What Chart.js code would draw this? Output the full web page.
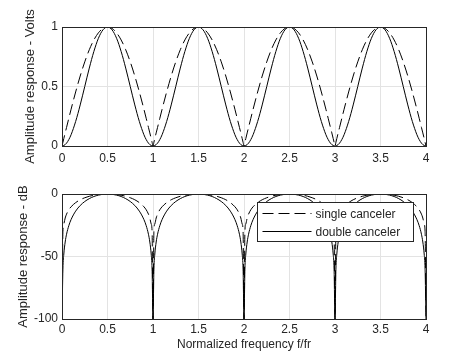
<!DOCTYPE html>
<html>
<head>
<meta charset="utf-8">
<script src="https://cdn.jsdelivr.net/npm/chart.js@4/dist/chart.umd.min.js"></script>
<style>
  body { margin: 0; background: #fff; }
  #wrap { position: relative; width: 472px; height: 354px; }
  .box { position: absolute; left: 0; width: 472px; height: 177px; }
</style>
</head>
<body>
<div id="wrap">
  <div class="box" style="top:0"><canvas id="volts"></canvas></div>
  <div class="box" style="top:177px"><canvas id="db"></canvas></div>
</div>
<script>
// normalized frequency f/fr (denser near the nulls)
const freq = [
  0, 0.01, 0.02, 0.035, 0.05, 0.075, 0.1, 0.15, 0.2, 0.25, 0.3, 0.35, 0.4, 0.45, 0.5, 0.55, 0.6, 0.65, 0.7, 0.75, 0.8, 0.85, 0.9, 0.925, 0.95, 0.965, 0.98, 0.99,
  1, 1.01, 1.02, 1.035, 1.05, 1.075, 1.1, 1.15, 1.2, 1.25, 1.3, 1.35, 1.4, 1.45, 1.5, 1.55, 1.6, 1.65, 1.7, 1.75, 1.8, 1.85, 1.9, 1.925, 1.95, 1.965, 1.98, 1.99,
  2, 2.01, 2.02, 2.035, 2.05, 2.075, 2.1, 2.15, 2.2, 2.25, 2.3, 2.35, 2.4, 2.45, 2.5, 2.55, 2.6, 2.65, 2.7, 2.75, 2.8, 2.85, 2.9, 2.925, 2.95, 2.965, 2.98, 2.99,
  3, 3.01, 3.02, 3.035, 3.05, 3.075, 3.1, 3.15, 3.2, 3.25, 3.3, 3.35, 3.4, 3.45, 3.5, 3.55, 3.6, 3.65, 3.7, 3.75, 3.8, 3.85, 3.9, 3.925, 3.95, 3.965, 3.98, 3.99,
  4
];

const singleVolts = [
  0, 0.031, 0.063, 0.110, 0.156, 0.233, 0.309, 0.454, 0.588, 0.707, 0.809, 0.891, 0.951, 0.988, 1, 0.988, 0.951, 0.891, 0.809, 0.707, 0.588, 0.454, 0.309, 0.233, 0.156, 0.110, 0.063, 0.031,
  0, 0.031, 0.063, 0.110, 0.156, 0.233, 0.309, 0.454, 0.588, 0.707, 0.809, 0.891, 0.951, 0.988, 1, 0.988, 0.951, 0.891, 0.809, 0.707, 0.588, 0.454, 0.309, 0.233, 0.156, 0.110, 0.063, 0.031,
  0, 0.031, 0.063, 0.110, 0.156, 0.233, 0.309, 0.454, 0.588, 0.707, 0.809, 0.891, 0.951, 0.988, 1, 0.988, 0.951, 0.891, 0.809, 0.707, 0.588, 0.454, 0.309, 0.233, 0.156, 0.110, 0.063, 0.031,
  0, 0.031, 0.063, 0.110, 0.156, 0.233, 0.309, 0.454, 0.588, 0.707, 0.809, 0.891, 0.951, 0.988, 1, 0.988, 0.951, 0.891, 0.809, 0.707, 0.588, 0.454, 0.309, 0.233, 0.156, 0.110, 0.063, 0.031,
  0
];

const doubleVolts = [
  0, 0.001, 0.004, 0.012, 0.024, 0.054, 0.095, 0.206, 0.345, 0.5, 0.655, 0.794, 0.905, 0.976, 1, 0.976, 0.905, 0.794, 0.655, 0.5, 0.345, 0.206, 0.095, 0.054, 0.024, 0.012, 0.004, 0.001,
  0, 0.001, 0.004, 0.012, 0.024, 0.054, 0.095, 0.206, 0.345, 0.5, 0.655, 0.794, 0.905, 0.976, 1, 0.976, 0.905, 0.794, 0.655, 0.5, 0.345, 0.206, 0.095, 0.054, 0.024, 0.012, 0.004, 0.001,
  0, 0.001, 0.004, 0.012, 0.024, 0.054, 0.095, 0.206, 0.345, 0.5, 0.655, 0.794, 0.905, 0.976, 1, 0.976, 0.905, 0.794, 0.655, 0.5, 0.345, 0.206, 0.095, 0.054, 0.024, 0.012, 0.004, 0.001,
  0, 0.001, 0.004, 0.012, 0.024, 0.054, 0.095, 0.206, 0.345, 0.5, 0.655, 0.794, 0.905, 0.976, 1, 0.976, 0.905, 0.794, 0.655, 0.5, 0.345, 0.206, 0.095, 0.054, 0.024, 0.012, 0.004, 0.001,
  0
];

const singleDb = [
  -100, -30.1, -24.0, -19.2, -16.1, -12.6, -10.2, -6.9, -4.6, -3.0, -1.8, -1.0, -0.4, -0.1, 0, -0.1, -0.4, -1.0, -1.8, -3.0, -4.6, -6.9, -10.2, -12.6, -16.1, -19.2, -24.0, -30.1,
  -100, -30.1, -24.0, -19.2, -16.1, -12.6, -10.2, -6.9, -4.6, -3.0, -1.8, -1.0, -0.4, -0.1, 0, -0.1, -0.4, -1.0, -1.8, -3.0, -4.6, -6.9, -10.2, -12.6, -16.1, -19.2, -24.0, -30.1,
  -100, -30.1, -24.0, -19.2, -16.1, -12.6, -10.2, -6.9, -4.6, -3.0, -1.8, -1.0, -0.4, -0.1, 0, -0.1, -0.4, -1.0, -1.8, -3.0, -4.6, -6.9, -10.2, -12.6, -16.1, -19.2, -24.0, -30.1,
  -100, -30.1, -24.0, -19.2, -16.1, -12.6, -10.2, -6.9, -4.6, -3.0, -1.8, -1.0, -0.4, -0.1, 0, -0.1, -0.4, -1.0, -1.8, -3.0, -4.6, -6.9, -10.2, -12.6, -16.1, -19.2, -24.0, -30.1,
  -100
];

const doubleDb = [
  -100, -60.1, -48.0, -38.4, -32.2, -25.3, -20.4, -13.7, -9.2, -6.0, -3.7, -2.0, -0.9, -0.2, 0, -0.2, -0.9, -2.0, -3.7, -6.0, -9.2, -13.7, -20.4, -25.3, -32.2, -38.4, -48.0, -60.1,
  -100, -60.1, -48.0, -38.4, -32.2, -25.3, -20.4, -13.7, -9.2, -6.0, -3.7, -2.0, -0.9, -0.2, 0, -0.2, -0.9, -2.0, -3.7, -6.0, -9.2, -13.7, -20.4, -25.3, -32.2, -38.4, -48.0, -60.1,
  -100, -60.1, -48.0, -38.4, -32.2, -25.3, -20.4, -13.7, -9.2, -6.0, -3.7, -2.0, -0.9, -0.2, 0, -0.2, -0.9, -2.0, -3.7, -6.0, -9.2, -13.7, -20.4, -25.3, -32.2, -38.4, -48.0, -60.1,
  -100, -60.1, -48.0, -38.4, -32.2, -25.3, -20.4, -13.7, -9.2, -6.0, -3.7, -2.0, -0.9, -0.2, 0, -0.2, -0.9, -2.0, -3.7, -6.0, -9.2, -13.7, -20.4, -25.3, -32.2, -38.4, -48.0, -60.1,
  -100
];

const seriesNames = ['single canceler', 'double canceler'];
const voltTicks = [0, 0.5, 1];
const dbTicks = [-100, -50, 0];

const ink = '#262626';
const gridColor = '#e3e3e3';
const font = { family: '"Liberation Sans", Arial, sans-serif', size: 12 };

Chart.defaults.font = font;
Chart.defaults.color = ink;

const points = ys => freq.map((f, i) => ({ x: f, y: ys[i] }));
const plainLabel = v => String(v);

// box around the plot area, like matlab axes
const boxPlugin = {
  id: 'box',
  afterDraw(chart) {
    const { ctx, chartArea: a } = chart;
    ctx.save();
    ctx.strokeStyle = ink;
    ctx.lineWidth = 1;
    ctx.strokeRect(Math.round(a.left) + 0.5, Math.round(a.top) + 0.5, Math.round(a.right - a.left), Math.round(a.bottom - a.top));
    ctx.restore();
  }
};

// legend drawn inside the plot area (top right)
const insideLegend = {
  id: 'insideLegend',
  afterDraw(chart) {
    const { ctx, chartArea: a } = chart;
    const w = 156, h = 39;
    const x0 = Math.round(a.right - 13 - w) + 0.5;
    const y0 = Math.round(a.top + 8) + 0.5;
    ctx.save();
    ctx.fillStyle = '#fff';
    ctx.fillRect(x0, y0, w, h);
    ctx.strokeStyle = ink;
    ctx.lineWidth = 1;
    ctx.strokeRect(x0, y0, w, h);
    ctx.font = '12px "Liberation Sans", Arial, sans-serif';
    ctx.textBaseline = 'middle';
    chart.data.datasets.forEach((ds, i) => {
      const yy = y0 + 11 + i * 18;
      ctx.beginPath();
      ctx.setLineDash(ds.borderDash || []);
      ctx.strokeStyle = ds.borderColor;
      ctx.moveTo(x0 + 5, yy);
      ctx.lineTo(x0 + 54, yy);
      ctx.stroke();
      ctx.setLineDash([]);
      ctx.fillStyle = ink;
      ctx.fillText(ds.label, x0 + 58, yy + 1);
    });
    ctx.restore();
  }
};

function makeOptions(yMin, yMax, yTicks, yTitle, titlePad, plotTop, xHeight, xPad, xTitle) {
  return {
    responsive: true,
    maintainAspectRatio: false,
    animation: false,
    layout: { padding: { top: plotTop, right: 46, left: 0, bottom: 0 } },
    plugins: { legend: { display: false }, tooltip: { enabled: false } },
    elements: { point: { radius: 0 } },
    scales: {
      x: {
        type: 'linear',
        min: 0,
        max: 4,
        ticks: { stepSize: 0.5, padding: xPad, maxRotation: 0, callback: plainLabel },
        grid: { color: gridColor, drawTicks: false },
        border: { display: false },
        title: { display: !!xTitle, text: xTitle, padding: { top: 0, bottom: 2 } },
        afterFit: s => { s.height = xHeight; }
      },
      y: {
        min: yMin,
        max: yMax,
        afterBuildTicks: s => { s.ticks = yTicks.map(v => ({ value: v })); },
        ticks: { padding: 4, callback: plainLabel },
        grid: { color: gridColor, drawTicks: false },
        border: { display: false },
        title: { display: true, text: yTitle, font: { size: 13 }, padding: { top: titlePad, bottom: 0 } },
        afterFit: s => { s.width = 62; }
      }
    }
  };
}

function lineSet(label, ys, dashed) {
  return {
    label: label,
    data: points(ys),
    borderColor: '#000',
    borderWidth: 1,
    borderDash: dashed ? [11, 5] : [],
    cubicInterpolationMode: 'monotone',
    fill: false
  };
}

new Chart(document.getElementById('volts'), {
  type: 'line',
  data: {
    datasets: [
      lineSet(seriesNames[0], singleVolts, true),
      lineSet(seriesNames[1], doubleVolts, false)
    ]
  },
  options: makeOptions(0, 1, voltTicks, 'Amplitude response - Volts', 23, 27, 31, 5, ''),
  plugins: [boxPlugin]
});

new Chart(document.getElementById('db'), {
  type: 'line',
  data: {
    datasets: [
      lineSet(seriesNames[0], singleDb, true),
      lineSet(seriesNames[1], doubleDb, false)
    ]
  },
  options: makeOptions(-100, 0, dbTicks, 'Amplitude response - dB', 16, 17, 35, 3, 'Normalized frequency f/fr'),
  plugins: [boxPlugin, insideLegend]
});
</script>
</body>
</html>
